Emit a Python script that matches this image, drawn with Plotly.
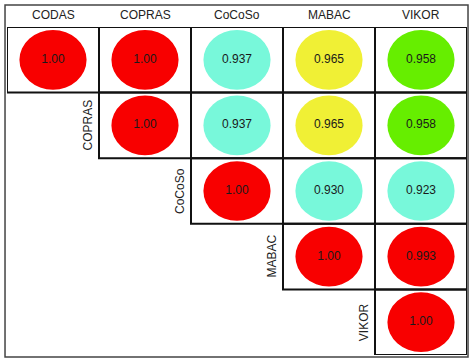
import plotly.graph_objects as go

methods = ["CODAS", "COPRAS", "CoCoSo", "MABAC", "VIKOR"]
# upper-triangular correlation values (None = empty cell)
row_codas = [1.00, 1.00, 0.937, 0.965, 0.958]
row_copras = [None, 1.00, 0.937, 0.965, 0.958]
row_cocoso = [None, None, 1.00, 0.930, 0.923]
row_mabac = [None, None, None, 1.00, 0.993]
row_vikor = [None, None, None, None, 1.00]
labels_codas = ["1.00", "1.00", "0.937", "0.965", "0.958"]
labels_copras = ["", "1.00", "0.937", "0.965", "0.958"]
labels_cocoso = ["", "", "1.00", "0.930", "0.923"]
labels_mabac = ["", "", "", "1.00", "0.993"]
labels_vikor = ["", "", "", "", "1.00"]

rows = [row_codas, row_copras, row_cocoso, row_mabac, row_vikor]
labels = [labels_codas, labels_copras, labels_cocoso, labels_mabac, labels_vikor]

# colour bins (lower bound, colour)
bin_bounds = [0.99, 0.96, 0.95, 0.0]
bin_colors = ["#F80000", "#F0F035", "#66EE00", "#78F8DA"]


def color_for(v):
    for b, c in zip(bin_bounds, bin_colors):
        if v >= b:
            return c
    return bin_colors[-1]


fig = go.Figure()
shapes = []
annotations = []
tx, ty, tt = [], [], []
for i, (vals, labs) in enumerate(zip(rows, labels)):
    for j, (v, lab) in enumerate(zip(vals, labs)):
        if v is None:
            continue
        shapes.append(dict(type="rect", xref="x", yref="y",
                           x0=j - 0.5, x1=j + 0.5, y0=i - 0.5, y1=i + 0.5,
                           line=dict(color="#111111", width=2), layer="above"))
        shapes.append(dict(type="circle", xref="x", yref="y",
                           x0=j - 0.365, x1=j + 0.365, y0=i - 0.455, y1=i + 0.455,
                           fillcolor=color_for(v), line=dict(width=0), layer="below"))
        tx.append(j)
        ty.append(i)
        tt.append(lab)
    if i > 0:
        annotations.append(dict(x=i - 0.5, y=i, xref="x", yref="y", text=methods[i],
                                textangle=-90, showarrow=False, xanchor="right",
                                yanchor="middle", xshift=-2,
                                font=dict(family="Liberation Sans, Arial", size=12, color="#222222")))

for j, m in enumerate(methods):
    annotations.append(dict(x=j, y=1.0, xref="x", yref="paper", yshift=12, text=m,
                            showarrow=False, xanchor="center", yanchor="middle",
                            font=dict(family="Liberation Sans, Arial", size=12, color="#222222")))

# outer frame
shapes.append(dict(type="rect", xref="paper", yref="paper",
                   x0=-0.0043, x1=1.0022, y0=-0.006, y1=1.067,
                   line=dict(color="#444444", width=1.5), layer="above"))

fig.add_trace(go.Scatter(x=tx, y=ty, text=tt, mode="text",
                         textfont=dict(family="Liberation Sans, Arial", size=12, color="#1a1a1a"),
                         hoverinfo="skip", showlegend=False))

fig.update_layout(
    width=474, height=362,
    margin=dict(l=7, r=7, t=27, b=7),
    paper_bgcolor="white", plot_bgcolor="white",
    xaxis=dict(range=[-0.5, 4.5], visible=False, fixedrange=True),
    yaxis=dict(range=[4.5, -0.5], visible=False, fixedrange=True),
    shapes=shapes, annotations=annotations, showlegend=False,
)

fig.write_html("out.html", config={"displayModeBar": False},
               post_script="document.body.style.margin='0';document.body.style.overflow='hidden';")
